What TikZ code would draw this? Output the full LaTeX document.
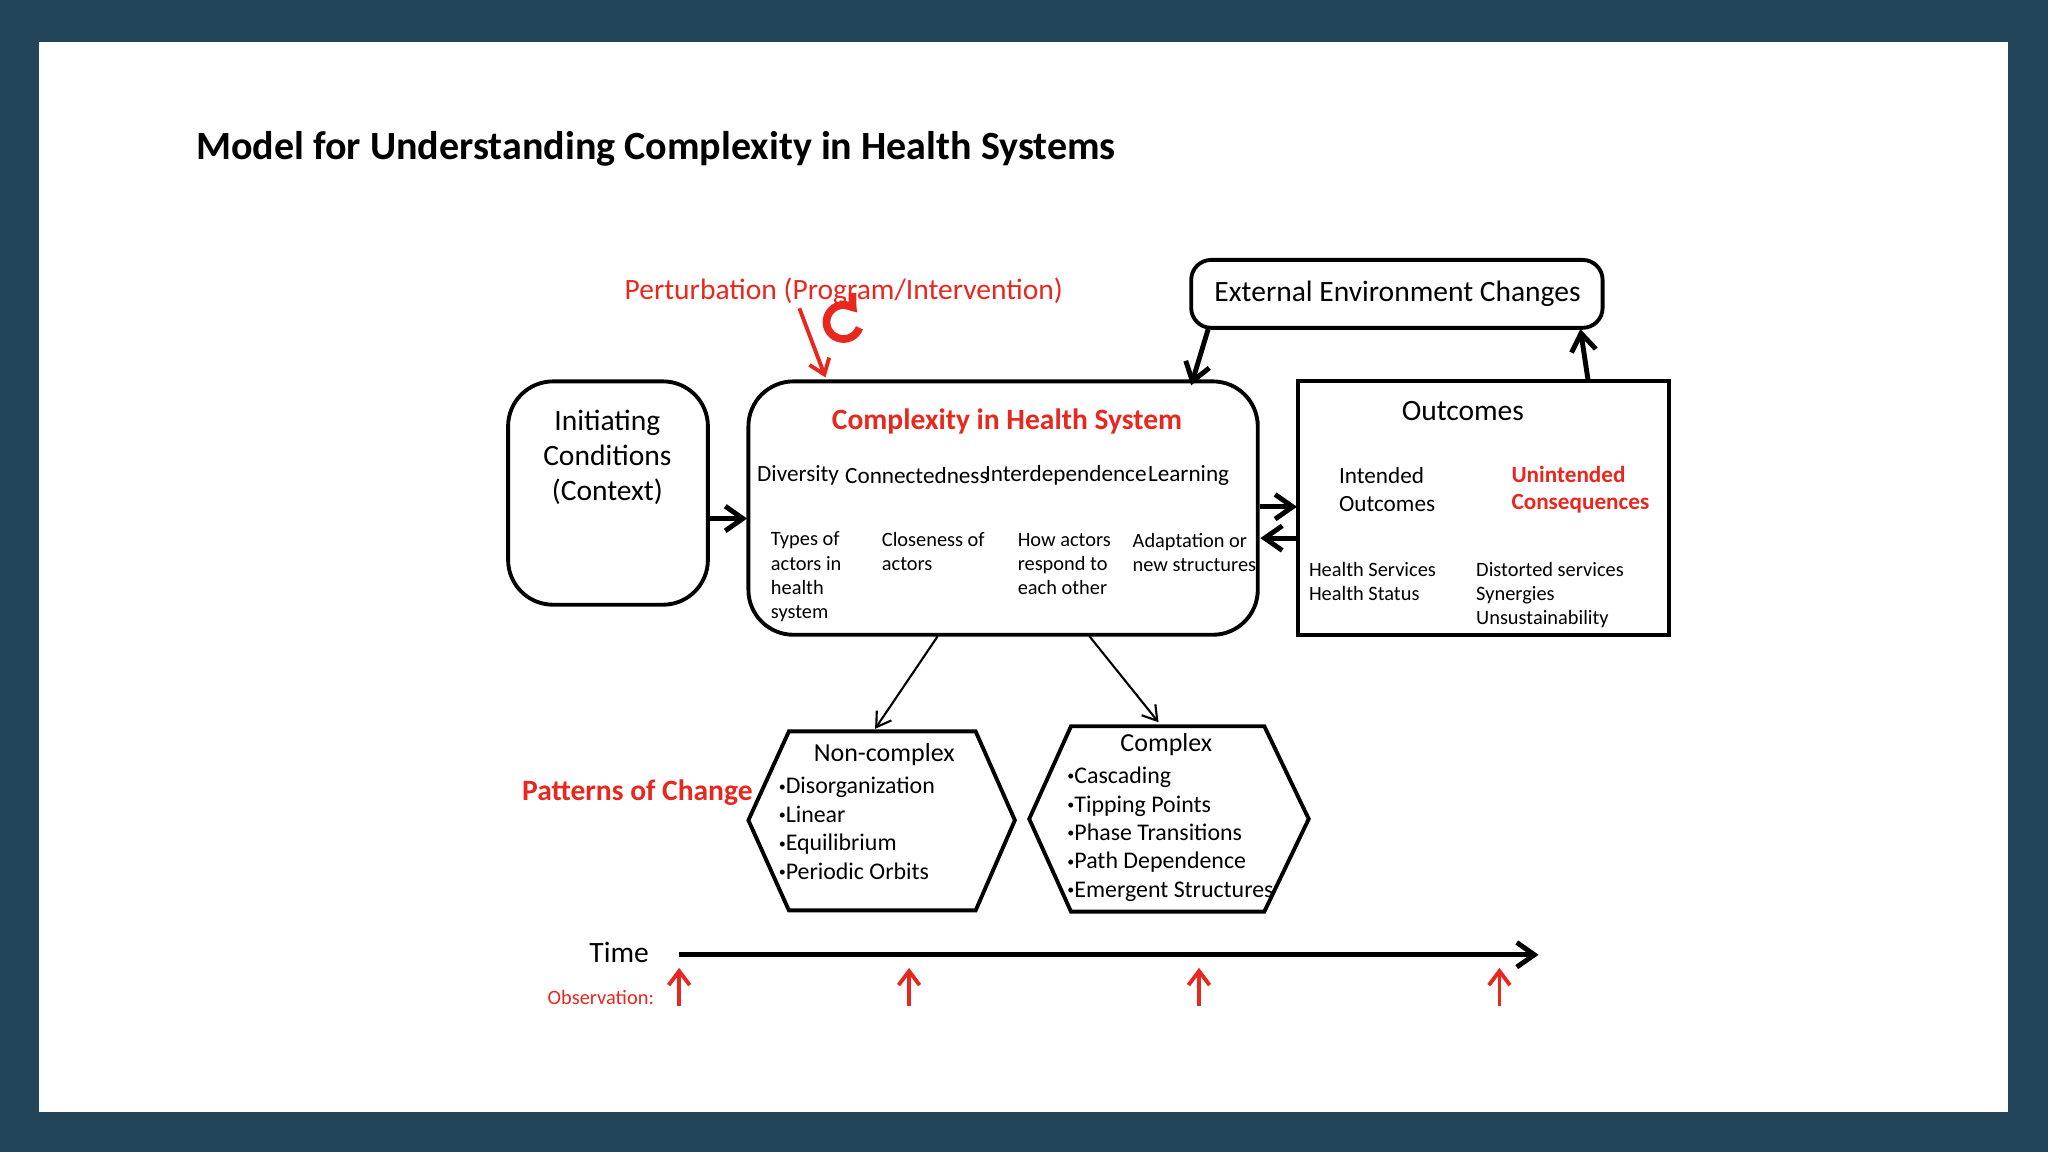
\documentclass[tikz,border=0pt]{standalone}
\usepackage{fontspec}
\setmainfont{Carlito}
\usetikzlibrary{positioning}
\usetikzlibrary{arrows.meta}
\definecolor{frame}{HTML}{22455A}
\definecolor{accent}{HTML}{E8281E}
\newcommand{\bodyfont}{\fontsize{6.6}{7.9}\selectfont}
\newcommand{\smallfont}{\fontsize{5.8}{6.9}\selectfont}
\newcommand{\midfont}{\fontsize{8.4}{10}\selectfont}
\newcommand{\bul}{{\fontsize{4}{4}\selectfont\raisebox{0.4ex}{•}}}
\begin{document}
\begin{tikzpicture}[
        x=0.01306cm, y=-0.01306cm,
        every node/.style = {inner sep=1pt, font=\bodyfont},
        box/.style = {draw, line width=1.1pt, rounded corners=0.45cm},
        small/.style = {font=\smallfont, align=left, anchor=north west},
        thick arrow/.style = {-{Straight Barb[length=5pt,width=7pt]}, line width=1.4pt},
        thin arrow/.style = {-{Straight Barb[length=4pt,width=5pt]}, line width=0.6pt},
        red arrow/.style = {-{Straight Barb[length=4pt,width=6pt]}, line width=1.1pt, accent}
        ]
    \fill[frame] (0,0) rectangle (1568,882);
    \fill[white] (30,32) rectangle (1537,851);
    \node[anchor=west, font=\fontsize{11.4}{13}\selectfont\bfseries] (title) at (147,114) {Model for Understanding Complexity in Health Systems};

    % top row
    \node[accent, font=\midfont] (perturb) at (646,223) {Perturbation (Program/Intervention)};
    \draw[box, rounded corners=0.2cm] (912,199) rectangle (1227,251);
    \node[font=\midfont] (extern) at (1070,225) {External Environment Changes};
    \coordinate (extin) at (912,295);
    \coordinate (extout) at (1210,252);

    % boxes
    \draw[box] (389,292) rectangle (542,463);
    \node[font=\midfont, align=center] (init) at (465,350) {Initiating\\Conditions\\(Context)};
    \draw[box] (573,292) rectangle (963,486);
    \node[accent, font=\midfont\bfseries] (cx) at (771,323) {Complexity in Health System};
    \node (div) at (611,364) {Diversity};
    \node (con) at (702,364) {Connectedness};
    \node (int) at (816,364) {Interdependence};
    \node (lea) at (910,364) {Learning};
    \node[small] (divd) at (587,404) {Types of\\actors in\\health\\system};
    \node[small] (cond) at (672,404) {Closeness of\\actors};
    \node[small] (intd) at (776,405) {How actors\\respond to\\each other};
    \node[small] (lead) at (864,405) {Adaptation or\\new structures};
    \draw[line width=1.1pt] (994,292) rectangle (1278,486);
    \node[font=\midfont] (out) at (1120,315) {Outcomes};
    \node[align=left] (intended) at (1062,375) {Intended\\Outcomes};
    \node[accent, font=\bodyfont\bfseries, align=left] (unint) at (1210,375) {Unintended\\Consequences};
    \node[small] (hs) at (999,427) {Health Services\\Health Status};
    \node[small] (ds) at (1127,427) {Distorted services\\Synergies\\Unsustainability};

    % perturbation arrows
    \coordinate (pstart) at (612,236);
    \coordinate (pend) at (632,289);
    \draw[red arrow] (pstart) -- (pend);
    \draw[accent, line width=2.2pt, -{Straight Barb[length=3pt,width=5pt]}] (658,251) arc (20:320:13);

    % main connectors
    \coordinate (initr) at (543,397);
    \coordinate (cxl) at (572,397);
    \draw[thick arrow] (initr) -- (cxl);
    \draw[thick arrow] (965,388) -- (993,388);
    \draw[thick arrow] (993,412) -- (965,412);
    \draw[thick arrow] (925,252) -- (extin);
    \draw[thick arrow] (1216,292) -- (extout);

    % patterns of change
    \draw[line width=1.1pt] (573,628) -- (604,560) -- (747,560) -- (777,628) -- (747,697) -- (604,697) -- cycle;
    \draw[line width=1.1pt] (788,627) -- (820,556) -- (968,556) -- (1002,627) -- (968,698) -- (820,698) -- cycle;
    \coordinate (nctop) at (670,558);
    \coordinate (ctop) at (887,553);
    \draw[thin arrow] (718,487) -- (nctop);
    \draw[thin arrow] (834,487) -- (ctop);
    \node[font=\fontsize{7.4}{9}\selectfont] (nc) at (677,578) {Non-complex};
    \node[anchor=north west, align=left, font=\fontsize{6.8}{8.1}\selectfont] (ncl) at (593,592) {\bul Disorganization\\\bul Linear\\\bul Equilibrium\\\bul Periodic Orbits};
    \node[font=\fontsize{7.4}{9}\selectfont] (c) at (893,570) {Complex};
    \node[anchor=north west, align=left, font=\fontsize{6.8}{8.1}\selectfont] (cl) at (814,584) {\bul Cascading\\\bul Tipping Points\\\bul Phase Transitions\\\bul Path Dependence\\\bul Emergent Structures};
    \node[accent, font=\midfont\bfseries] (poc) at (488,607) {Patterns of Change};

    % time axis
    \node[font=\midfont] (time) at (474,729) {Time};
    \coordinate (t0) at (520,731);
    \coordinate (t1) at (1178,731);
    \draw[thick arrow] (t0) -- (t1);
    \node[accent, font=\smallfont] (obs) at (460,764) {Observation:};
    \foreach \ox in {520,696,918,1148} {
        \draw[red arrow] (\ox,770) -- (\ox,741);
    }
\end{tikzpicture}
\end{document}
